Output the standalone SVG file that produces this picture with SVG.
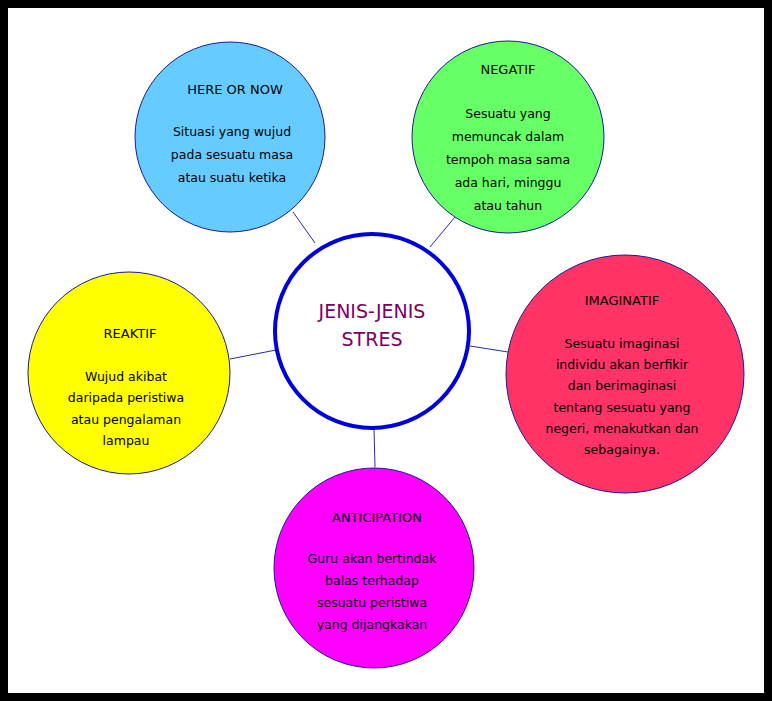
<svg xmlns="http://www.w3.org/2000/svg" width="772" height="701" viewBox="0 0 772 701">
<style>
.n{stroke:#1a1a99;stroke-width:1}
.t{font-family:"DejaVu Sans",sans-serif;font-size:12.5px;text-anchor:middle;fill:#000}
.h{font-size:13px}
.c{stroke:#2a2aa8;stroke-width:1}
</style>
<rect x="0" y="0" width="772" height="701" fill="#000"/>
<rect x="8" y="8" width="756" height="685" fill="#fff"/>
<g id="connectors">
<line class="c" x1="293" y1="212" x2="315" y2="243"/>
<line class="c" x1="455" y1="217" x2="430" y2="247"/>
<line class="c" x1="470" y1="346" x2="508" y2="352"/>
<line class="c" x1="230" y1="359" x2="276" y2="350"/>
<line class="c" x1="374" y1="429" x2="375" y2="467"/>
</g>
<g id="center">
<circle cx="372" cy="331" r="97" fill="#fff" stroke="#0000dd" stroke-width="4"/>
<text class="t" style="font-size:19px;fill:#800060" x="372" y="318">JENIS-JENIS</text>
<text class="t" style="font-size:19px;fill:#800060" x="372" y="346">STRES</text>
</g>
<g id="here">
<circle class="n" cx="230" cy="137" r="95" fill="#66ccff"/>
<text class="t h" x="235" y="94">HERE OR NOW</text>
<text class="t" x="232" y="136">Situasi yang wujud</text>
<text class="t" x="232" y="159">pada sesuatu masa</text>
<text class="t" x="232" y="182">atau suatu ketika</text>
</g>
<g id="negatif">
<circle class="n" cx="508" cy="137" r="96" fill="#66ff66"/>
<text class="t h" x="508" y="74">NEGATIF</text>
<text class="t" x="508" y="118">Sesuatu yang</text>
<text class="t" x="508" y="141">memuncak dalam</text>
<text class="t" x="508" y="164">tempoh masa sama</text>
<text class="t" x="508" y="187">ada hari, minggu</text>
<text class="t" x="508" y="210">atau tahun</text>
</g>
<g id="imaginatif">
<circle class="n" cx="625" cy="374" r="119" fill="#ff3366"/>
<text class="t h" x="622" y="305">IMAGINATIF</text>
<text class="t" x="622" y="348">Sesuatu imaginasi</text>
<text class="t" x="622" y="369">individu akan berfikir</text>
<text class="t" x="622" y="390">dan berimaginasi</text>
<text class="t" x="622" y="412">tentang sesuatu yang</text>
<text class="t" x="622" y="433">negeri, menakutkan dan</text>
<text class="t" x="622" y="454">sebagainya.</text>
</g>
<g id="reaktif">
<circle class="n" cx="129" cy="373" r="101" fill="#ffff00"/>
<text class="t h" x="130" y="338">REAKTIF</text>
<text class="t" x="126" y="381">Wujud akibat</text>
<text class="t" x="126" y="402">daripada peristiwa</text>
<text class="t" x="126" y="424">atau pengalaman</text>
<text class="t" x="126" y="445">lampau</text>
</g>
<g id="anticipation">
<circle class="n" cx="374" cy="568" r="100" fill="#ff00ff"/>
<text class="t h" x="377" y="522">ANTICIPATION</text>
<text class="t" x="372" y="563">Guru akan bertindak</text>
<text class="t" x="372" y="585">balas terhadap</text>
<text class="t" x="372" y="607">sesuatu peristiwa</text>
<text class="t" x="372" y="629">yang dijangkakan</text>
</g>
</svg>
